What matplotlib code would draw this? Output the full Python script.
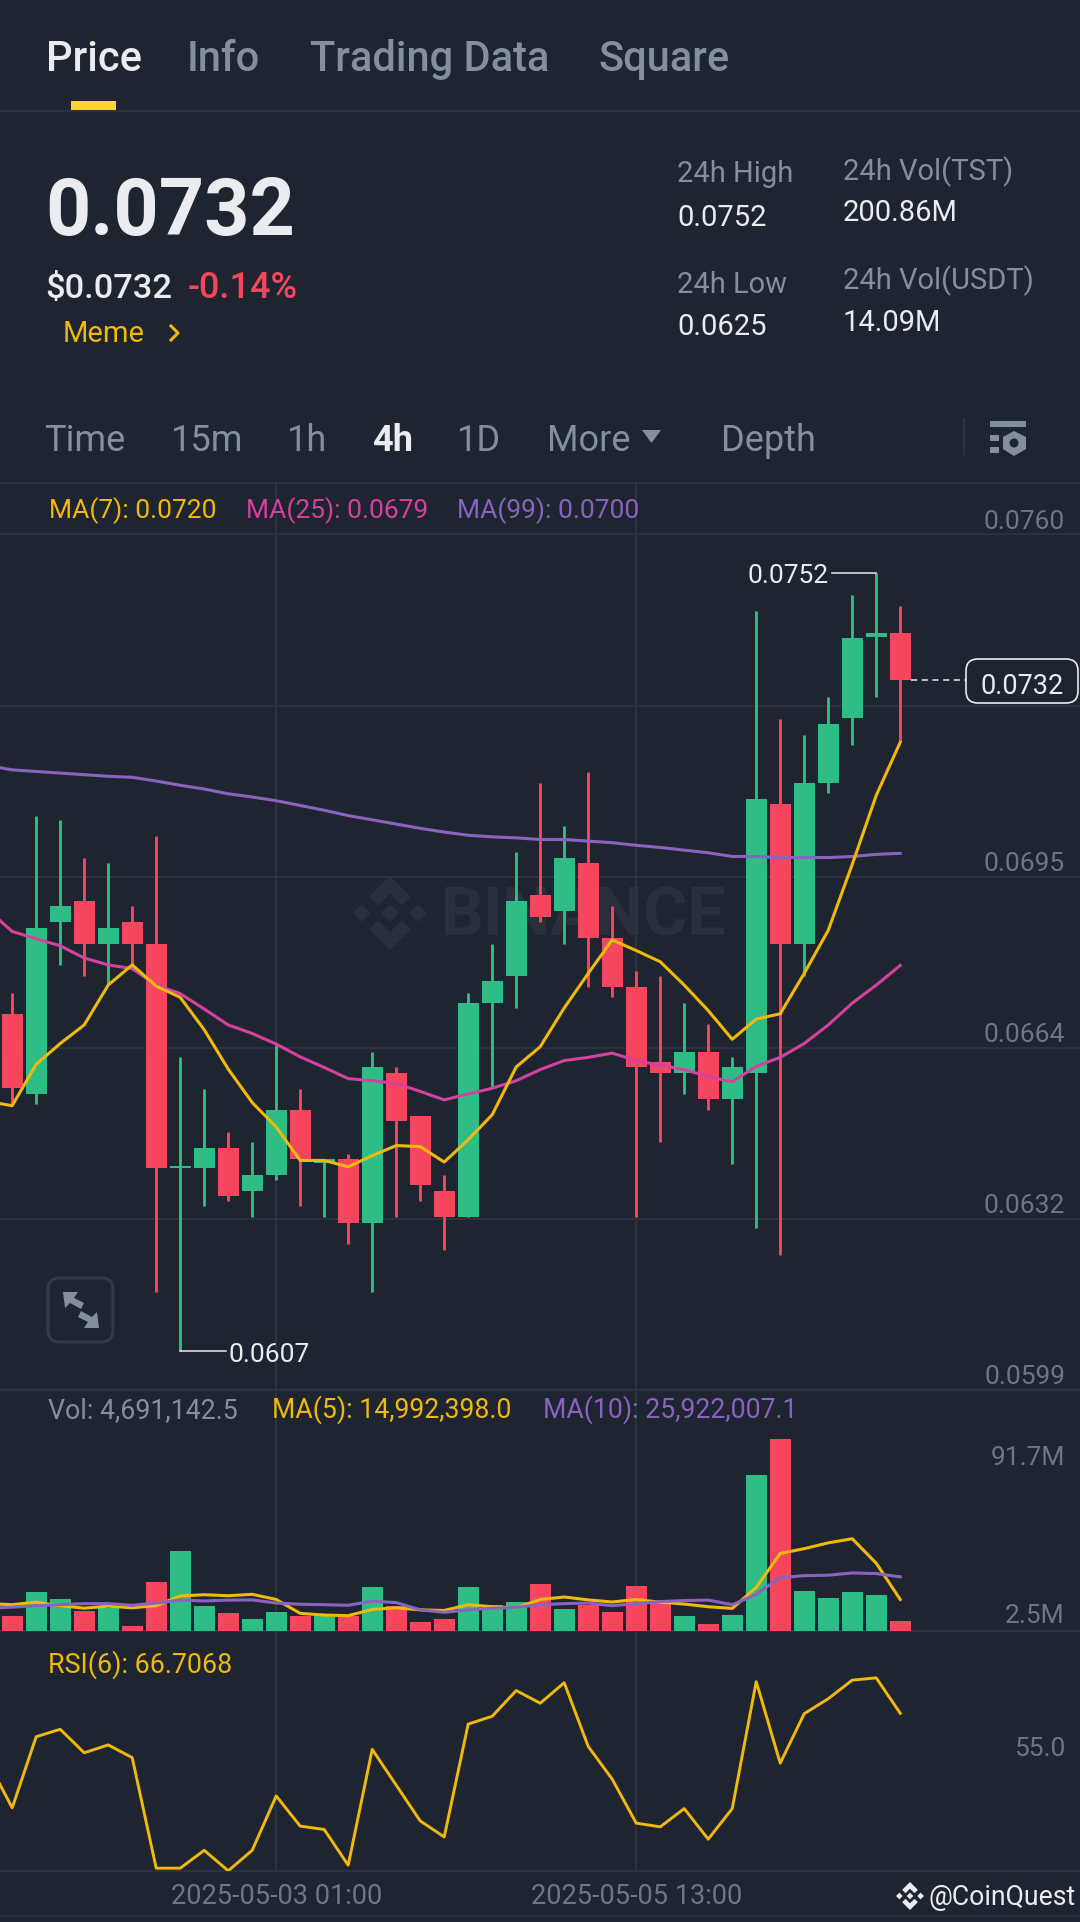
import numpy as np
import matplotlib
matplotlib.use("Agg")
import matplotlib.pyplot as plt
from matplotlib.patches import FancyBboxPatch, Polygon, Rectangle, Circle

plt.rcParams['font.family'] = ['Roboto', 'DejaVu Sans']

# candles, oldest first
opens = [0.06698, 0.06547, 0.06870, 0.06911, 0.06830, 0.06870, 0.06830, 0.06407, 0.06407, 0.06446,
         0.06365, 0.06395, 0.06516, 0.06417, 0.06425, 0.06305, 0.06587, 0.06506, 0.06365, 0.06315,
         0.06719, 0.06770, 0.06921, 0.06891, 0.06981, 0.06840, 0.06749, 0.06607, 0.06587, 0.06627,
         0.06538, 0.06587, 0.07092, 0.06830, 0.07132, 0.07254, 0.07407, 0.07415]
closes = [0.06558, 0.06859, 0.06900, 0.06830, 0.06859, 0.06830, 0.06407, 0.06411, 0.06446, 0.06355,
          0.06395, 0.06516, 0.06425, 0.06425, 0.06305, 0.06598, 0.06496, 0.06375, 0.06315, 0.06719,
          0.06759, 0.06911, 0.06881, 0.06991, 0.06840, 0.06749, 0.06598, 0.06587, 0.06627, 0.06538,
          0.06597, 0.07102, 0.06830, 0.07132, 0.07244, 0.07406, 0.07415, 0.07326]
highs = [0.06738, 0.07071, 0.07062, 0.06991, 0.06981, 0.06900, 0.07032, 0.06617, 0.06556, 0.06476,
         0.06456, 0.06639, 0.06556, 0.06425, 0.06435, 0.06627, 0.06597, 0.06506, 0.06395, 0.06738,
         0.06830, 0.07002, 0.07132, 0.07052, 0.07153, 0.06900, 0.06779, 0.06770, 0.06719, 0.06678,
         0.06617, 0.07456, 0.07253, 0.07223, 0.07294, 0.07487, 0.07528, 0.07466]
lows = [0.06526, 0.06528, 0.06789, 0.06770, 0.06752, 0.06790, 0.06174, 0.06064, 0.06336, 0.06345,
        0.06315, 0.06385, 0.06336, 0.06315, 0.06264, 0.06174, 0.06315, 0.06345, 0.06254, 0.06315,
        0.06558, 0.06708, 0.06871, 0.06830, 0.06749, 0.06730, 0.06315, 0.06457, 0.06547, 0.06517,
        0.06416, 0.06295, 0.06244, 0.06769, 0.07113, 0.07204, 0.07294, 0.07211]

# moving averages start one candle left of the frame
ma7 = [0.06533, 0.06525, 0.06603, 0.06642, 0.06677, 0.06752, 0.06790, 0.06750, 0.06729, 0.06668,
       0.06594, 0.06531, 0.06485, 0.06422, 0.06422, 0.06410, 0.06431, 0.06450, 0.06448, 0.06419,
       0.06461, 0.06508, 0.06598, 0.06636, 0.06709, 0.06774, 0.06837, 0.06817, 0.06796, 0.06752,
       0.06704, 0.06650, 0.06688, 0.06698, 0.06774, 0.06855, 0.06979, 0.07109, 0.07209]
ma25 = [0.06893, 0.06853, 0.06839, 0.06826, 0.06803, 0.06790, 0.06783, 0.06752, 0.06736, 0.06707,
        0.06677, 0.06661, 0.06641, 0.06617, 0.06597, 0.06576, 0.06572, 0.06567, 0.06552, 0.06536,
        0.06547, 0.06558, 0.06572, 0.06593, 0.06610, 0.06616, 0.06624, 0.06610, 0.06601, 0.06593,
        0.06580, 0.06570, 0.06599, 0.06616, 0.06642, 0.06677, 0.06718, 0.06752, 0.06789]
ma99 = [0.07165, 0.07157, 0.07154, 0.07151, 0.07148, 0.07145, 0.07143, 0.07136, 0.07128, 0.07121,
        0.07112, 0.07106, 0.07099, 0.07090, 0.07081, 0.07071, 0.07063, 0.07055, 0.07047, 0.07040,
        0.07034, 0.07031, 0.07029, 0.07026, 0.07026, 0.07023, 0.07020, 0.07015, 0.07011, 0.07006,
        0.07001, 0.06994, 0.06994, 0.06992, 0.06992, 0.06992, 0.06994, 0.06998, 0.07000]

price_ticks = [0.0760, 0.07278, 0.06956, 0.06634, 0.06312, 0.0599]
price_labels = ["0.0760", "0.0727", "0.0695", "0.0664", "0.0632", "0.0599"]

# volume in millions
volume = [7.2, 18.5, 15.0, 9.5, 10.8, 2.3, 23.5, 38.3, 11.7, 8.5,
          5.7, 8.8, 7.0, 6.8, 7.0, 21.0, 11.7, 4.0, 5.5, 21.0,
          12.2, 13.8, 22.5, 10.5, 12.3, 9.0, 21.3, 14.2, 7.2, 3.2,
          7.5, 74.8, 92.3, 19.0, 15.7, 18.5, 17.2, 4.69]
vol_ma5 = [13.0, 12.5, 13.7, 12.0, 10.8, 11.8, 11.0, 12.0, 16.7, 17.3,
           16.8, 17.5, 15.0, 8.3, 7.5, 7.2, 10.2, 11.0, 10.0, 9.7,
           12.5, 11.5, 11.0, 15.0, 16.2, 14.8, 13.8, 15.0, 13.7, 12.8,
           11.5, 10.7, 20.8, 37.2, 39.5, 42.3, 44.3, 32.5, 14.99]
vol_ma10 = [10.8, 11.3, 12.0, 12.5, 13.0, 13.0, 12.2, 13.3, 14.7, 14.3,
            14.7, 14.8, 13.3, 12.7, 12.5, 12.2, 14.2, 13.5, 10.0, 8.8,
            10.0, 10.8, 11.2, 12.5, 13.0, 13.3, 12.0, 13.0, 14.0, 14.5,
            14.7, 12.5, 17.5, 25.5, 26.5, 26.7, 27.8, 27.5, 25.92]
rsi6 = [53.6, 41.3, 60.4, 62.4, 56.1, 58.2, 54.8, 25.1, 25.1, 29.9,
        24.4, 29.9, 44.5, 36.4, 35.5, 25.9, 57.0, 47.4, 37.8, 33.5,
        63.8, 65.9, 72.8, 69.4, 74.9, 57.8, 49.0, 37.2, 36.2, 41.1,
        32.9, 41.1, 75.2, 53.3, 66.6, 70.6, 75.6, 76.2, 66.7]

date_ticks = [11, 26]
date_labels = ["2025-05-03 01:00", "2025-05-05 13:00"]

BG = "#1E2530"
GRID = "#2E353F"
LINE = "#2B323D"
GREEN = "#2EBD85"
RED = "#F6465D"
YELLOW = "#F0B90B"
PINK = "#D6409F"
PURPLE = "#8A63C0"
WHITE = "#EAECEF"
GREY = "#848E9C"
AXIS_GREY = "#6F7682"
WIDTH, HEIGHT = 1080, 1922

candle_x = np.arange(len(opens))
line_x = np.arange(-1, len(opens))
colors = [GREEN if c >= o else RED for o, c in zip(opens, closes)]


def panel(top, bottom, ylim, zorder=2):
    ax = fig.add_axes([0, 1 - bottom / HEIGHT, 1, (bottom - top) / HEIGHT], zorder=zorder)
    ax.patch.set_alpha(0)
    ax.set_xlim(-0.508, 44.49)
    ax.set_ylim(*ylim)
    for s in ax.spines.values():
        s.set_visible(False)
    ax.set_xticks(date_ticks)
    ax.set_xticklabels([])
    ax.set_yticks([])
    ax.tick_params(length=0)
    ax.grid(axis="x", color=GRID, lw=1.2)
    ax.set_axisbelow(True)
    return ax


def right_label(ax, value, text, offset_px, right_px=15, color=AXIS_GREY):
    ax.annotate(text, xy=(1, value), xycoords=ax.get_yaxis_transform(),
                xytext=(-right_px * 0.72, offset_px * 0.72), textcoords="offset points",
                ha="right", va="center", color=color, fontsize=19)


def txt(x, y, s, color=GREY, size=20, weight="normal", ha="left", va="baseline", ax=None):
    (ax or back).text(x, y, s, color=color, fontsize=size, fontweight=weight, ha=ha, va=va)


def binance_logo(ax, cx, cy, r, color):
    d = r * 0.24
    for dx, dy in [(0, 0), (-r + d, 0), (r - d, 0)]:
        ax.add_patch(Polygon([(cx + dx - d, cy + dy), (cx + dx, cy + dy - d),
                              (cx + dx + d, cy + dy), (cx + dx, cy + dy + d)], color=color, lw=0))
    for sign in (-1, 1):
        ax.add_patch(Polygon([(cx, cy + sign * r), (cx + r * 0.56, cy + sign * r * 0.44),
                              (cx + r * 0.32, cy + sign * r * 0.2), (cx, cy + sign * r * 0.52),
                              (cx - r * 0.32, cy + sign * r * 0.2), (cx - r * 0.56, cy + sign * r * 0.44)],
                             color=color, lw=0))


fig = plt.figure(figsize=(WIDTH / 100, HEIGHT / 100), dpi=100, facecolor=BG)

# screen furniture behind the chart
back = fig.add_axes([0, 0, 1, 1], zorder=0)
back.set_xlim(0, WIDTH)
back.set_ylim(HEIGHT, 0)
back.axis("off")
back.patch.set_alpha(0)

front = fig.add_axes([0, 0, 1, 1], zorder=5)
front.set_xlim(0, WIDTH)
front.set_ylim(HEIGHT, 0)
front.axis("off")
front.patch.set_alpha(0)

txt(46, 71, "Price", WHITE, 30, "medium")
txt(187, 71, "Info", GREY, 30, "medium")
txt(310, 71, "Trading Data", GREY, 30, "medium")
txt(598, 71, "Square", GREY, 30, "medium")
back.add_patch(Rectangle((71, 101), 45, 9, color="#FCD535", lw=0))
back.plot([0, WIDTH], [111, 111], color=LINE, lw=1.5)

txt(45, 235, "0.0732", WHITE, 57, "bold")
txt(45, 298, "$0.0732", WHITE, 24.8, "medium")
txt(188, 298, "-0.14%", RED, 26, "medium")
txt(63, 342, "Meme", YELLOW, 21)
back.plot([171, 178, 171], [326, 333, 340], color=YELLOW, lw=2.2)

txt(677, 182, "24h High", GREY, 21)
txt(677, 226, "0.0752", WHITE, 21)
txt(677, 293, "24h Low", GREY, 21)
txt(677, 335, "0.0625", WHITE, 21)
txt(843, 180, "24h Vol(TST)", GREY, 21)
txt(843, 221, "200.86M", WHITE, 21)
txt(843, 289, "24h Vol(USDT)", GREY, 21)
txt(843, 331, "14.09M", WHITE, 21)

txt(44, 451, "Time", GREY, 26)
txt(171, 451, "15m", GREY, 26)
txt(287, 451, "1h", GREY, 26)
txt(372, 451, "4h", WHITE, 26, "bold")
txt(457, 451, "1D", GREY, 26)
txt(547, 451, "More", GREY, 26)
txt(721, 451, "Depth", GREY, 26)
back.add_patch(Polygon([(642, 430), (661, 430), (651.5, 443)], color=GREY, lw=0))
back.plot([964, 964], [419, 454], color=LINE, lw=1.5)
back.add_patch(Rectangle((990, 421), 36, 6, color=GREY, lw=0))
back.add_patch(Rectangle((990, 435), 9, 6, color=GREY, lw=0))
back.add_patch(Rectangle((990, 447), 9, 6, color=GREY, lw=0))
back.add_patch(Polygon([(1014, 431), (1026, 437), (1026, 449), (1014, 456), (1003, 449), (1003, 437)],
                       color=GREY, lw=0))
back.add_patch(Circle((1014, 443), 4.5, color=BG, lw=0))

back.plot([0, WIDTH], [483, 483], color=LINE, lw=1.5)
binance_logo(back, 390, 913, 37, "#2A303B")
txt(441, 935, "BINANCE", "#2A303B", 48.5, "bold")

# price panel: y scale fixed by the two outer grid lines
price = panel(484, 1390, (0.0599, 0.07695))
price.set_yticks(price_ticks)
price.set_yticklabels([])
price.grid(axis="y", color=GRID, lw=1.2)
bottoms = np.minimum(opens, closes)
heights = np.abs(np.array(closes) - np.array(opens))
price.vlines(candle_x, lows, highs, colors=colors, lw=2.1, zorder=2)
price.bar(candle_x, heights, bottom=bottoms, width=0.86, color=colors, lw=0, zorder=2)
price.plot(line_x, ma99, color=PURPLE, lw=2.2, zorder=3)
price.plot(line_x, ma25, color=PINK, lw=2.2, zorder=3)
price.plot(line_x, ma7, color=YELLOW, lw=2.2, zorder=3)
for value, label in zip(price_ticks, price_labels):
    right_label(price, value, label, 12.5)

# high / low / last markers
price.plot([7, 8.9], [lows[7], lows[7]], color=WHITE, lw=1.1, zorder=3)
price.plot([34.15, 36], [highs[36], highs[36]], color=WHITE, lw=1.1, zorder=3)
price.annotate("0.0607", xy=(9.0, lows[7]), xytext=(0, -3), textcoords="offset points",
               color=WHITE, fontsize=19, va="center", ha="left")
price.annotate("0.0752", xy=(34.0, highs[36]), xytext=(0, -2), textcoords="offset points",
               color=WHITE, fontsize=19, va="center", ha="right")
price.plot([37.45, 39.8], [closes[37], closes[37]], color=WHITE, lw=1.1, ls=(0, (4, 3)), zorder=3)

front.add_patch(FancyBboxPatch((966, 659), 112, 44, boxstyle="round,pad=0,rounding_size=12",
                               fc=BG, ec=WHITE, lw=1.2))
txt(1022, 686, "0.0732", WHITE, 19.5, ha="center", va="center", ax=front)

# expand button
front.add_patch(FancyBboxPatch((48, 1278), 65, 64, boxstyle="round,pad=0,rounding_size=12",
                               fc="none", ec="#333A46", lw=2.2))
front.add_patch(Polygon([(63, 1292), (78, 1292), (74, 1298), (84, 1303), (81, 1309), (70, 1303), (65, 1308)],
                        color=GREY, lw=0))
front.add_patch(Polygon([(99, 1328), (84, 1328), (88, 1322), (78, 1317), (81, 1311), (92, 1317), (97, 1312)],
                        color=GREY, lw=0))

txt(49, 518, "MA(7): 0.0720", YELLOW, 19, ax=front)
txt(246, 518, "MA(25): 0.0679", PINK, 19, ax=front)
txt(457, 518, "MA(99): 0.0700", PURPLE, 19, ax=front)

# volume panel
vol = panel(1390, 1630.6, (0, 116))
vol.bar(candle_x, volume, width=0.86, color=colors, lw=0, zorder=2)
vol.plot(line_x, vol_ma5, color=YELLOW, lw=2.2, zorder=3)
vol.plot(line_x, vol_ma10, color=PURPLE, lw=2.2, zorder=3)
right_label(vol, 91.7, "91.7M", -18)
right_label(vol, 2.5, "2.5M", 9)
txt(48, 1418, "Vol: 4,691,142.5", GREY, 19.3, ax=front)
txt(272, 1418, "MA(5): 14,992,398.0", YELLOW, 19.2, ax=front)
txt(543, 1418, "MA(10): 25,922,007.1", PURPLE, 19.2, ax=front)

# rsi panel
rsi = panel(1630.6, 1870.8, (24.4, 88.9))
rsi.plot(line_x, rsi6, color=YELLOW, lw=2.1, zorder=3)
right_label(rsi, 55, "55.0", 8)
rsi.set_xticklabels(date_labels, color=AXIS_GREY, fontsize=19.5)
rsi.tick_params(axis="x", pad=9)
txt(48, 1673, "RSI(6): 66.7068", YELLOW, 19.4, ax=front)

for y in (1390, 1631, 1871, 1916):
    back.plot([0, WIDTH], [y, y], color=LINE, lw=1.6)

binance_logo(front, 910, 1896, 14, WHITE)
txt(929, 1905, "@CoinQuest", WHITE, 19.2, ax=front)

fig.savefig("out.png", dpi=100, facecolor=BG)
